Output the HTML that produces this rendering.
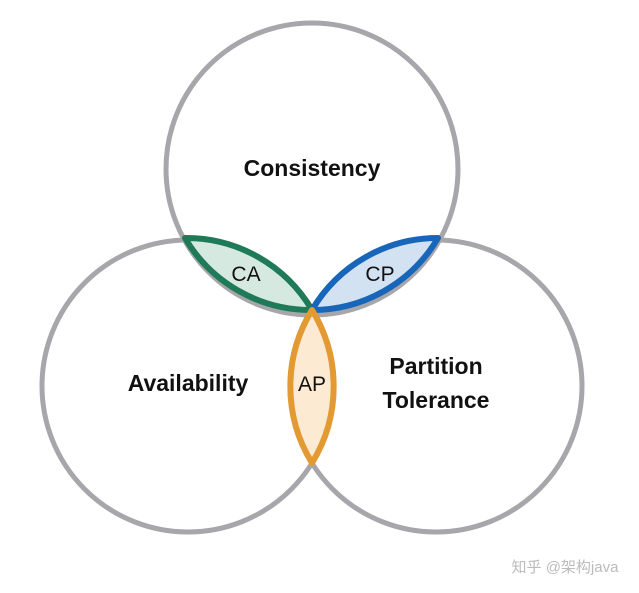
<!DOCTYPE html>
<html><head><meta charset="utf-8"><style>
html,body{margin:0;padding:0;background:#fff;}
svg{display:block;}
</style></head><body>
<svg width="639" height="593" viewBox="0 0 639 593" xmlns="http://www.w3.org/2000/svg">
<g fill="none" stroke="#a6a6ab" stroke-width="5">
<circle cx="312" cy="169" r="146"/>
<circle cx="188" cy="386" r="146"/>
<circle cx="436" cy="386" r="146"/>
</g>
<path d="M185 238 A146 146 0 0 0 312 310 A146 146 0 0 0 185 238 Z" fill="#d6e9e1" stroke="#1f7a58" stroke-width="6" stroke-linejoin="round"/>
<path d="M438 238 A146 146 0 0 1 312 310 A146 146 0 0 1 438 238 Z" fill="#d3e2f2" stroke="#1766b9" stroke-width="6" stroke-linejoin="round"/>
<path d="M312 310 A146 146 0 0 1 312 463 A146 146 0 0 1 312 310 Z" fill="#fdead2" stroke="#e39a33" stroke-width="6" stroke-linejoin="round"/>
<g font-family="Liberation Sans, sans-serif" text-anchor="middle" fill="#111">
<text x="312" y="176" font-size="23" font-weight="bold">Consistency</text>
<text x="188" y="391" font-size="23" font-weight="bold">Availability</text>
<text x="436" y="374" font-size="23" font-weight="bold">Partition</text>
<text x="436" y="408" font-size="23" font-weight="bold">Tolerance</text>
<text x="246" y="281" font-size="21">CA</text>
<text x="380" y="281" font-size="21">CP</text>
<text x="312" y="391" font-size="21">AP</text>
</g>
<text x="565" y="572" text-anchor="middle" font-family="Liberation Sans, Noto Sans CJK SC, sans-serif" font-size="15" fill="#bbb">知乎 @架构java</text>
</svg>
</body></html>
